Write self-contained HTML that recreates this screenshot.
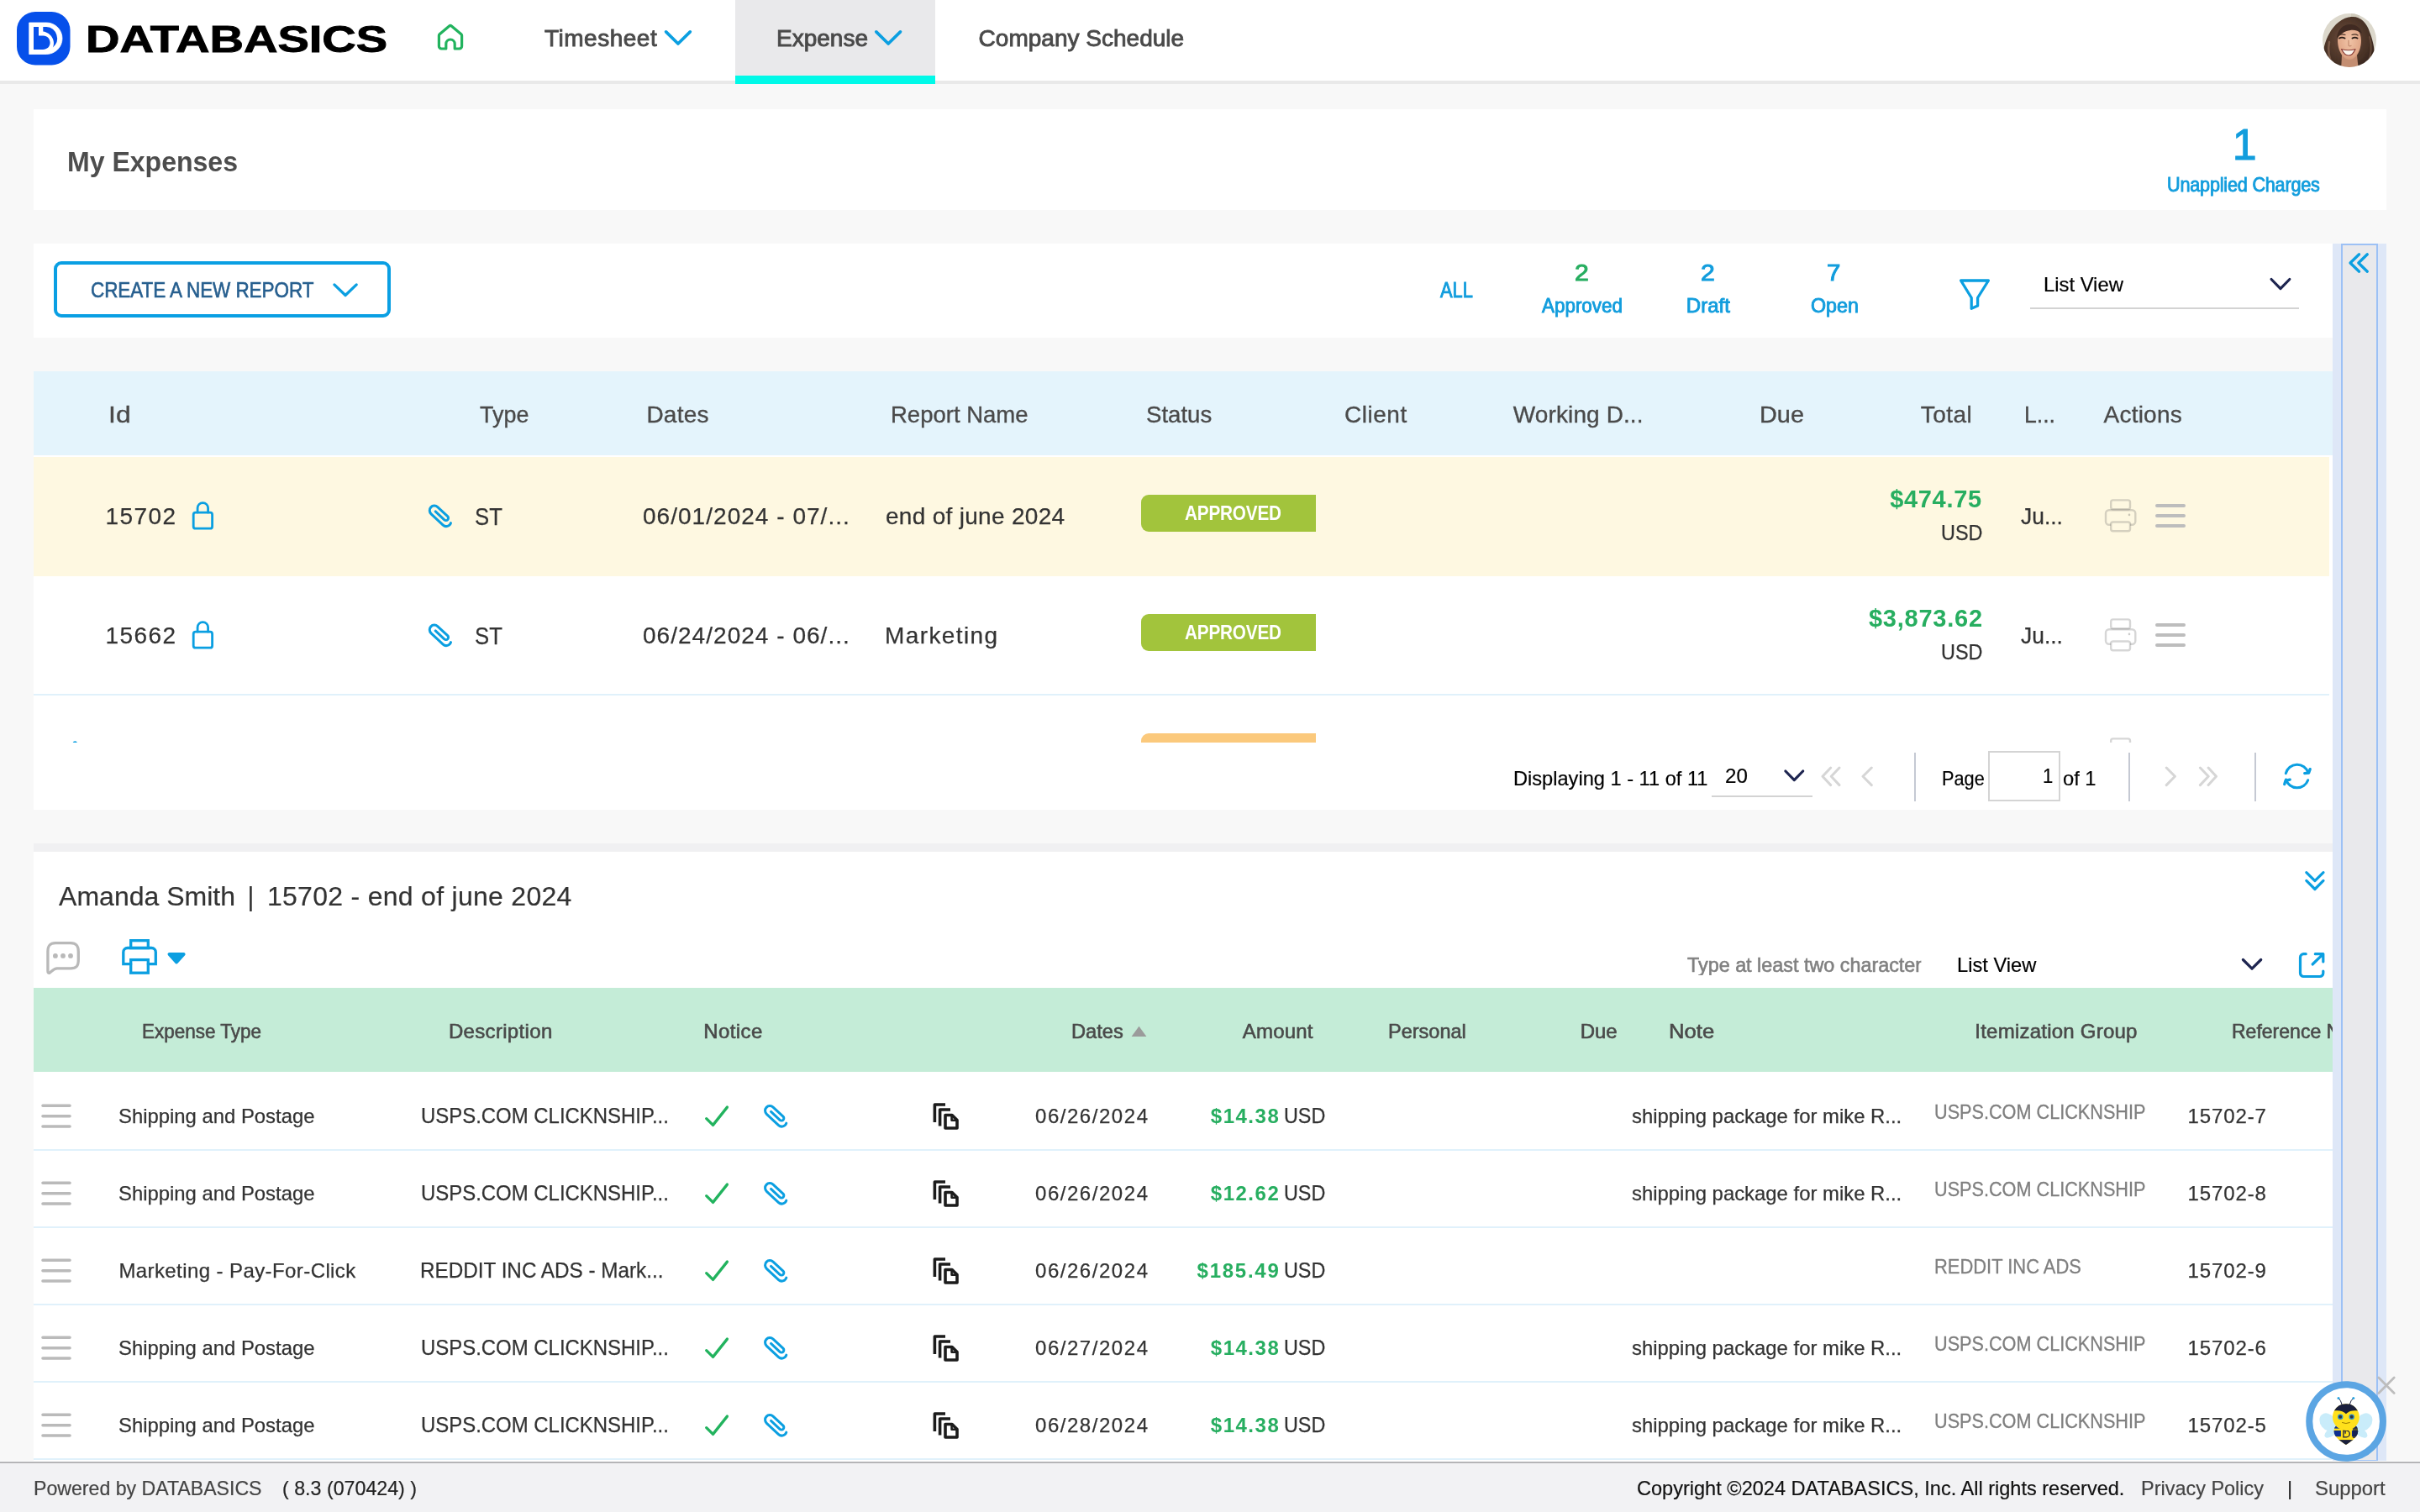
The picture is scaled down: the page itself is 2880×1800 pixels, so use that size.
<!DOCTYPE html>
<html lang="en"><head><meta charset="utf-8"><title>My Expenses</title><style>
*{box-sizing:border-box;margin:0;padding:0}
html,body{width:2880px;height:1800px;overflow:hidden;background:#f8f8f8;font-family:"Liberation Sans",sans-serif}
#root{position:relative;width:2880px;height:1800px;overflow:hidden;will-change:transform}
.b{position:absolute}
.t{position:absolute;white-space:pre;line-height:1;font-family:"Liberation Sans",sans-serif}
svg{position:absolute;overflow:visible}
</style></head><body><div id="root">
<!-- nav -->
<div class="b" style="left:0;top:0;width:2880px;height:96px;background:#fff"></div>
<div class="b" style="left:0;top:96px;width:2880px;height:4px;background:#e9e9e9"></div>
<div class="b" style="left:875px;top:0;width:238px;height:90px;background:#e9e9eb"></div>
<div class="b" style="left:875px;top:90px;width:238px;height:10px;background:#00f9e8"></div>
<!-- My Expenses panel -->
<div class="b" style="left:40px;top:130px;width:2800px;height:120px;background:#fff"></div>
<!-- toolbar panel -->
<div class="b" style="left:40px;top:290px;width:2736px;height:112px;background:#fff"></div>
<div class="b" style="left:64px;top:311px;width:401px;height:67px;border:4px solid #0a9fe3;border-radius:9px;background:#fff"></div>
<div class="b" style="left:2416px;top:366px;width:320px;height:2px;background:#d3d3d3"></div>
<!-- right collapsed strip -->
<div class="b" style="left:2776px;top:290px;width:64px;height:1450px;background:#dee7f7"></div>
<div class="b" style="left:2786px;top:290px;width:44px;height:1450px;background:#e9e9ec;border:2px solid #9dc1f5"></div>
<!-- grid 1 -->
<div class="b" style="left:40px;top:442px;width:2736px;height:522px;background:#fff"></div>
<div class="b" style="left:40px;top:442px;width:2736px;height:100px;background:#e4f4fc"></div>
<div class="b" style="left:40px;top:544px;width:2732px;height:142px;background:#fef8e1"></div>
<div class="b" style="left:40px;top:826px;width:2732px;height:2px;background:#e0f1fb"></div>
<div class="b" style="left:1358px;top:589px;width:208px;height:44px;background:#a2c43c;border-radius:9px 0 0 9px"></div>
<div class="b" style="left:1358px;top:731px;width:208px;height:44px;background:#a2c43c;border-radius:9px 0 0 9px"></div>
<div class="b" style="left:1358px;top:873px;width:208px;height:11px;background:#fbc97c;border-radius:9px 0 0 0"></div>
<!-- paging -->
<div class="b" style="left:2037px;top:947px;width:120px;height:2px;background:#d3d3d3"></div>
<div class="b" style="left:2278px;top:896px;width:2px;height:58px;background:#c5c9d3"></div>
<div class="b" style="left:2533px;top:896px;width:2px;height:58px;background:#c5c9d3"></div>
<div class="b" style="left:2683px;top:896px;width:2px;height:58px;background:#c5c9d3"></div>
<div class="b" style="left:2366px;top:894px;width:86px;height:60px;border:2px solid #d4d4d4;background:#fff"></div>
<!-- splitter -->
<div class="b" style="left:40px;top:1004px;width:2736px;height:10px;background:#f0f0f2"></div>
<!-- bottom panel -->
<div class="b" style="left:40px;top:1014px;width:2736px;height:726px;background:#fff"></div>
<div class="b" style="left:40px;top:1176px;width:2736px;height:100px;background:#c4ecd7"></div>
<div class="b" style="left:40px;top:1368px;width:2736px;height:2px;background:#e0f1fb"></div>
<div class="b" style="left:40px;top:1460px;width:2736px;height:2px;background:#e0f1fb"></div>
<div class="b" style="left:40px;top:1552px;width:2736px;height:2px;background:#e0f1fb"></div>
<div class="b" style="left:40px;top:1644px;width:2736px;height:2px;background:#e0f1fb"></div>
<div class="b" style="left:40px;top:1736px;width:2736px;height:2px;background:#e0f1fb"></div>
<!-- footer -->
<div class="b" style="left:0;top:1739px;width:2880px;height:1px;background:#fff"></div>
<div class="b" style="left:0;top:1740px;width:2880px;height:60px;background:#f2f2f4;border-top:2px solid #b5b5b7"></div>

<svg width="2880" height="1800" viewBox="0 0 2880 1800" style="left:0;top:0" fill="none" stroke-linecap="round" stroke-linejoin="round">
<g transform="translate(20,14)">
<rect x="0" y="0" width="63.5" height="63.5" rx="22" fill="#0650ea"/>
<path d="M15 13H35.25A18.75 18.75 0 0 1 35.25 50.5H15Z" fill="#fff" stroke="#fff" stroke-width="0.8"/>
<path d="M20 18H26V28.4H31.5C36.5 28.4 39.6 32.2 39.6 36.8C39.6 41.6 36 45 31 45H20Z" fill="#0650ea"/>
<path d="M31.3 18H35.25A13.75 13.75 0 0 1 42.9 42.4C46.5 35.5 41.5 24.8 31.3 23.4Z" fill="#0650ea"/>
</g>
<path d="M530.8 58H525.4a3 3 0 0 1-3-3V42.2a2 2 0 0 1 .7-1.5L534.7 31a2 2 0 0 1 2.6 0L548.9 40.7a2 2 0 0 1 .7 1.5V55a3 3 0 0 1-3 3H541.2V52.2a5.2 5.2 0 0 0-10.4 0Z" stroke="#22b35e" stroke-width="3.2"/>
<path d="M792.6 37.9L806.95 52L821.3 37.9" stroke="#0b9fe1" stroke-width="3.7"/>
<path d="M1042.8 37.9L1057.15 52L1071.5 37.9" stroke="#0b9fe1" stroke-width="3.7"/>
<path d="M397.9 338.9L411.04999999999995 351.5L424.2 338.9" stroke="#0b9fe1" stroke-width="3.3"/>
<path d="M2703.1 332.5L2713.95 343.6L2724.8 332.5" stroke="#1e2550" stroke-width="3.2"/>
<path d="M2669.4 1142.5L2680.05 1153.2L2690.7 1142.5" stroke="#1e2550" stroke-width="3.2"/>
<path d="M2124.9 918L2135.3 928.6L2145.7 918" stroke="#1e2550" stroke-width="3.2"/>
<path d="M2333.6 334H2366.4L2353.6 354.5V364L2346.2 367.3V354.5Z" stroke="#0b9fe1" stroke-width="3.3"/>
<path d="M2807.6 302.8L2797 313L2807.6 323.2M2817.3 302.8L2806.8 313L2817.3 323.2" stroke="#0b9fe1" stroke-width="3.3"/>
<path d="M2744.8 1038.6L2754.9 1048.6L2765 1038.6M2744.8 1048.4L2754.9 1058.5L2765 1048.4" stroke="#0b9fe1" stroke-width="3.2"/>
<path d="M2744.2 1135.7H2741.5a4 4 0 0 0-4 4V1158.5a4 4 0 0 0 4 4H2760.8a4 4 0 0 0 4-4V1156M2752.1 1148L2764.8 1135.7M2755.3 1135.7H2764.8V1144.9" stroke="#0b9fe1" stroke-width="3.2"/>
<rect x="230.2" y="610.2" width="22.4" height="19" rx="2.5" stroke="#0b9fe1" stroke-width="2.8"/>
<path d="M235.1 610V604.8a6.25 6.25 0 0 1 12.5 0V610" stroke="#0b9fe1" stroke-width="2.8"/>
<path transform="translate(518.2,608.9) rotate(43)" d="M22.74 -2.46A5.65 5.65 0 0 1 17.65 5.65L-1.75 5.65A5.65 5.65 0 0 1 -1.75 -5.65L14.5 -5.65A2.825 2.825 0 0 1 14.5 0L0 0" stroke="#0b9fe1" stroke-width="3.0"/>
<rect x="2512.2" y="595.4" width="22.8" height="10.8" rx="2.5" stroke="#555" stroke-opacity="0.24" stroke-width="2.4"/>
<rect x="2506" y="607.2" width="35.3" height="17.5" rx="4" stroke="#555" stroke-opacity="0.24" stroke-width="2.4"/>
<rect x="2512.2" y="621.5" width="22.8" height="10.8" rx="2.5" fill="#fef8e1" stroke="#555" stroke-opacity="0.24" stroke-width="2.4"/>
<circle cx="2534" cy="612.9" r="1.3" fill="#555" fill-opacity="0.3"/>
<path d="M2567 602H2599M2567 614H2599M2567 625.9H2599" stroke="#bdbdbd" stroke-width="4"/>
<rect x="230.2" y="752.2" width="22.4" height="19" rx="2.5" stroke="#0b9fe1" stroke-width="2.8"/>
<path d="M235.1 752V746.8a6.25 6.25 0 0 1 12.5 0V752" stroke="#0b9fe1" stroke-width="2.8"/>
<path transform="translate(518.2,750.9) rotate(43)" d="M22.74 -2.46A5.65 5.65 0 0 1 17.65 5.65L-1.75 5.65A5.65 5.65 0 0 1 -1.75 -5.65L14.5 -5.65A2.825 2.825 0 0 1 14.5 0L0 0" stroke="#0b9fe1" stroke-width="3.0"/>
<rect x="2512.2" y="737.4" width="22.8" height="10.8" rx="2.5" stroke="#555" stroke-opacity="0.24" stroke-width="2.4"/>
<rect x="2506" y="749.2" width="35.3" height="17.5" rx="4" stroke="#555" stroke-opacity="0.24" stroke-width="2.4"/>
<rect x="2512.2" y="763.5" width="22.8" height="10.8" rx="2.5" fill="#ffffff" stroke="#555" stroke-opacity="0.24" stroke-width="2.4"/>
<circle cx="2534" cy="754.9" r="1.3" fill="#555" fill-opacity="0.3"/>
<path d="M2567 744H2599M2567 756H2599M2567 767.9H2599" stroke="#bdbdbd" stroke-width="4"/>
<clipPath id="c3"><rect x="40" y="828" width="2732" height="56"/></clipPath>
<g clip-path="url(#c3)">
<rect x="2512.2" y="879.4" width="22.8" height="10.8" rx="2.5" stroke="#555" stroke-opacity="0.24" stroke-width="2.4"/>
<circle cx="89.3" cy="884.8" r="2.6" fill="#0b9fe1"/>
</g>
<path d="M2178.7 914L2169 924.3L2178.7 934.6M2189 914L2179.3 924.3L2189 934.6M2227.3 914L2217 924.3L2227.3 934.6M2578.2 914L2588.4 924.3L2578.2 934.6M2618.4 914L2628.2 924.3L2618.4 934.6M2628.1 914L2637.5 924.3L2628.1 934.6" stroke="#d6d6d6" stroke-width="3"/>
<path d="M2720.3 920.7A13.8 13.8 0 0 1 2746.9 920.0M2746.7 928.7A13.8 13.8 0 0 1 2720.5 928.0" stroke="#0b9fe1" stroke-width="3.0"/>
<path d="M2742.7 920.6L2747.6 920.1L2749.2 915.6M2725.2 928.2L2719.9 929.4L2718.7 933.6" stroke="#0b9fe1" stroke-width="3.3"/>
<path d="M66 1122.7H84C91 1122.7 93.3 1126 93.3 1133V1142.6C93.3 1150 91 1152.9 84 1152.9H68C64 1152.9 62 1156 59.3 1158C57.7 1159 56.9 1158 56.9 1156V1133C56.9 1126 59 1122.7 66 1122.7Z" stroke="#b9b9b9" stroke-width="3.3"/>
<circle cx="65.9" cy="1137.9" r="2.9" fill="#b9b9b9"/><circle cx="75" cy="1137.9" r="2.9" fill="#b9b9b9"/><circle cx="84" cy="1137.9" r="2.9" fill="#b9b9b9"/>
<g stroke="#0b9fe1" stroke-width="3.3" stroke-linejoin="miter"><rect x="155.7" y="1119.7" width="20.6" height="8.9"/><path d="M155.7 1147.7H146.8V1133.5a5 5 0 0 1 5-5H180.3a5 5 0 0 1 5 5V1147.7H176.3"/><rect x="155.7" y="1142.6" width="20.6" height="15.6"/></g>
<path d="M201.5 1136H218.6L210.05 1145.5Z" fill="#0b9fe1" stroke="#0b9fe1" stroke-width="4"/>
<path d="M1355.5 1221.7L1364.4 1234H1346.6Z" fill="#9b9b9b"/>
<path d="M51 1316.3H83M51 1328.7H83M51 1341H83" stroke="#bababa" stroke-width="3.6"/>
<path d="M840.7 1331.7L848.5 1339.4L865.4 1318.1" stroke="#22b35e" stroke-width="3.3"/>
<path transform="translate(917.5,1323.4) rotate(43)" d="M22.74 -2.46A5.65 5.65 0 0 1 17.65 5.65L-1.75 5.65A5.65 5.65 0 0 1 -1.75 -5.65L14.5 -5.65A2.825 2.825 0 0 1 14.5 0L0 0" stroke="#0b9fe1" stroke-width="3.0"/>
<g stroke="#1c1c1c" stroke-width="3.6" stroke-linecap="butt" stroke-linejoin="round"><path d="M1112.4 1336V1315H1125"/><path d="M1118.6 1340.5V1321H1131"/><path d="M1125 1327.5H1133L1139 1333.5V1343H1125Z" fill="#fff"/><path d="M1132.6 1328.5V1333.8H1138" stroke-width="2.6"/></g>
<path d="M51 1408.3H83M51 1420.7H83M51 1433H83" stroke="#bababa" stroke-width="3.6"/>
<path d="M840.7 1423.7L848.5 1431.4L865.4 1410.1" stroke="#22b35e" stroke-width="3.3"/>
<path transform="translate(917.5,1415.4) rotate(43)" d="M22.74 -2.46A5.65 5.65 0 0 1 17.65 5.65L-1.75 5.65A5.65 5.65 0 0 1 -1.75 -5.65L14.5 -5.65A2.825 2.825 0 0 1 14.5 0L0 0" stroke="#0b9fe1" stroke-width="3.0"/>
<g stroke="#1c1c1c" stroke-width="3.6" stroke-linecap="butt" stroke-linejoin="round"><path d="M1112.4 1428V1407H1125"/><path d="M1118.6 1432.5V1413H1131"/><path d="M1125 1419.5H1133L1139 1425.5V1435H1125Z" fill="#fff"/><path d="M1132.6 1420.5V1425.8H1138" stroke-width="2.6"/></g>
<path d="M51 1500.3H83M51 1512.7H83M51 1525H83" stroke="#bababa" stroke-width="3.6"/>
<path d="M840.7 1515.7L848.5 1523.4L865.4 1502.1" stroke="#22b35e" stroke-width="3.3"/>
<path transform="translate(917.5,1507.4) rotate(43)" d="M22.74 -2.46A5.65 5.65 0 0 1 17.65 5.65L-1.75 5.65A5.65 5.65 0 0 1 -1.75 -5.65L14.5 -5.65A2.825 2.825 0 0 1 14.5 0L0 0" stroke="#0b9fe1" stroke-width="3.0"/>
<g stroke="#1c1c1c" stroke-width="3.6" stroke-linecap="butt" stroke-linejoin="round"><path d="M1112.4 1520V1499H1125"/><path d="M1118.6 1524.5V1505H1131"/><path d="M1125 1511.5H1133L1139 1517.5V1527H1125Z" fill="#fff"/><path d="M1132.6 1512.5V1517.8H1138" stroke-width="2.6"/></g>
<path d="M51 1592.3H83M51 1604.7H83M51 1617H83" stroke="#bababa" stroke-width="3.6"/>
<path d="M840.7 1607.7L848.5 1615.4L865.4 1594.1" stroke="#22b35e" stroke-width="3.3"/>
<path transform="translate(917.5,1599.4) rotate(43)" d="M22.74 -2.46A5.65 5.65 0 0 1 17.65 5.65L-1.75 5.65A5.65 5.65 0 0 1 -1.75 -5.65L14.5 -5.65A2.825 2.825 0 0 1 14.5 0L0 0" stroke="#0b9fe1" stroke-width="3.0"/>
<g stroke="#1c1c1c" stroke-width="3.6" stroke-linecap="butt" stroke-linejoin="round"><path d="M1112.4 1612V1591H1125"/><path d="M1118.6 1616.5V1597H1131"/><path d="M1125 1603.5H1133L1139 1609.5V1619H1125Z" fill="#fff"/><path d="M1132.6 1604.5V1609.8H1138" stroke-width="2.6"/></g>
<path d="M51 1684.3H83M51 1696.7H83M51 1709H83" stroke="#bababa" stroke-width="3.6"/>
<path d="M840.7 1699.7L848.5 1707.4L865.4 1686.1" stroke="#22b35e" stroke-width="3.3"/>
<path transform="translate(917.5,1691.4) rotate(43)" d="M22.74 -2.46A5.65 5.65 0 0 1 17.65 5.65L-1.75 5.65A5.65 5.65 0 0 1 -1.75 -5.65L14.5 -5.65A2.825 2.825 0 0 1 14.5 0L0 0" stroke="#0b9fe1" stroke-width="3.0"/>
<g stroke="#1c1c1c" stroke-width="3.6" stroke-linecap="butt" stroke-linejoin="round"><path d="M1112.4 1704V1683H1125"/><path d="M1118.6 1708.5V1689H1131"/><path d="M1125 1695.5H1133L1139 1701.5V1711H1125Z" fill="#fff"/><path d="M1132.6 1696.5V1701.8H1138" stroke-width="2.6"/></g>
<circle cx="2792.1" cy="1692" r="43.85" fill="#fff" stroke="#5ba5e3" stroke-width="8"/>
<g transform="translate(2791.9,1692)">
<ellipse cx="-21.5" cy="1" rx="9" ry="11.5" fill="#c9ecfa" transform="rotate(-38 -21.5 1)"/><ellipse cx="21.5" cy="1" rx="9" ry="11.5" fill="#c9ecfa" transform="rotate(38 21.5 1)"/>
<ellipse cx="-18" cy="13.5" rx="8.5" ry="4.6" fill="#c9ecfa" transform="rotate(-35 -18 13.5)"/><ellipse cx="18" cy="13.5" rx="8.5" ry="4.6" fill="#c9ecfa" transform="rotate(35 18 13.5)"/>
<clipPath id="bb"><path d="M-14.3 12C-14.3 3 -7 3.5 0 3.5C7 3.5 14.3 3 14.3 12C14.3 19 6 24 0 28C-6 24 -14.3 19 -14.3 12Z"/></clipPath>
<g clip-path="url(#bb)"><rect x="-16" y="0" width="32" height="30" fill="#ffe01b"/><rect x="-16" y="3" width="32" height="5.6" fill="#0c2f8f"/><rect x="-16" y="11" width="32" height="7.2" fill="#0c2f8f"/><rect x="8" y="4" width="8" height="16" fill="#1a1f3d" opacity="0.75"/><rect x="-16" y="22.1" width="32" height="8" fill="#1a1f3d"/><rect x="-6" y="9.5" width="13" height="10.5" fill="#ffe01b"/></g>
<path d="M-3 11H0.5A3.9 3.9 0 0 1 0.5 18.8H-3ZM-0.8 11V14.2" stroke="#1a1f3d" stroke-width="1.3" stroke-linejoin="miter"/>
<circle cx="0" cy="-4.9" r="15.9" fill="#ffe01b"/>
<path d="M-14 -12.5A15.9 15.9 0 0 1 14 -12.5C8 -13.5 3 -12 0 -8.8C-3 -12 -8 -13.5 -14 -12.5Z" fill="#1a1f3d"/>
<circle cx="-6.7" cy="-5.3" r="3.2" fill="#2a8fd0"/><circle cx="6.8" cy="-5.3" r="3.2" fill="#2a8fd0"/><circle cx="-6.7" cy="-5.3" r="1.9" fill="#333"/><circle cx="6.8" cy="-5.3" r="1.9" fill="#333"/>
<path d="M-4.4 1.6Q0 3.6 4.4 1.6" stroke="#9a7b00" stroke-width="1"/>
<path d="M-4.8 -20Q-6 -25 -8.7 -27.5M4.4 -20Q5.6 -25 8.7 -27.5" stroke="#1a1f3d" stroke-width="1"/><circle cx="-8.9" cy="-27.6" r="1.5" fill="#2aa3df"/><circle cx="8.9" cy="-27.6" r="1.5" fill="#2aa3df"/>
</g>
<path d="M2830.8 1640.1L2849.2 1658.4M2849.2 1640.1L2830.8 1658.4" stroke="#bdbdbd" stroke-width="2.8"/>
<defs><radialGradient id="hg" cx="0.45" cy="0.4" r="0.7"><stop offset="0" stop-color="#6d4c3a"/><stop offset="0.6" stop-color="#4a3327"/><stop offset="1" stop-color="#2b1d17"/></radialGradient>
<radialGradient id="fg" cx="0.5" cy="0.45" r="0.65"><stop offset="0" stop-color="#f0c3a6"/><stop offset="0.7" stop-color="#e2a98a"/><stop offset="1" stop-color="#c58a6c"/></radialGradient>
<filter id="bl" x="-10%" y="-10%" width="120%" height="120%"><feGaussianBlur stdDeviation="0.7"/></filter>
<clipPath id="av"><circle cx="2796" cy="48" r="32"/></clipPath></defs>
<g clip-path="url(#av)"><rect x="2760" y="12" width="72" height="72" fill="#dcd8cc"/><rect x="2798" y="12" width="10" height="40" fill="#cfcabb"/>
<g filter="url(#bl)">
<path d="M2766 86C2762 70 2765 52 2772 40C2778 29 2788 20 2800 20C2810 20 2817 28 2820 38C2824 48 2827 60 2825 70C2824 78 2821 82 2818 86Z" fill="url(#hg)"/>
<path d="M2772 50C2770 60 2772 70 2776 78" stroke="#8a6852" stroke-width="2.5" opacity="0.7"/><path d="M2820 44C2823 54 2822 66 2818 74" stroke="#7a5a47" stroke-width="2" opacity="0.6"/>
<path d="M2786 84L2787 66H2805L2807 84Z" fill="#c48e72"/>
<path d="M2782 48C2782 38 2788 31 2796 31C2804 31 2810 38 2810 48C2810 60 2804 71 2796 71C2788 71 2782 60 2782 48Z" fill="url(#fg)"/>
<path d="M2781 47C2781 36 2788 29 2797 29C2804 29 2809 33 2811 40C2806 36 2801 35 2797 36C2790 37 2784 41 2781 47Z" fill="#3f2b21"/>
<path d="M2786.5 58.5Q2795 61 2803 58.5Q2800 66 2795 66Q2790 66 2786.5 58.5Z" fill="#fbf6ee" stroke="#8c3f38" stroke-width="1.2"/>
<path d="M2784 45.5Q2787 43.8 2790.5 45.5M2799.5 45.5Q2802.5 43.8 2805.5 45.5" stroke="#2a1c16" stroke-width="1.8"/>
<path d="M2783.5 42Q2787 40 2791 41.5M2799 41.5Q2803 40 2806 42" stroke="#4a3327" stroke-width="1.2"/>
<path d="M2795 48V54Q2796 55.5 2798 54.5" stroke="#c28a6e" stroke-width="1.2"/>
</g></g>
</svg>
<span class="t" style="left:648.0px;top:31.7px;font-size:28px;color:#4a4a4a;-webkit-text-stroke:0.9px #4a4a4a;letter-spacing:0.50px;">Timesheet</span>
<span class="t" style="left:924.0px;top:31.7px;font-size:28px;color:#4a4a4a;-webkit-text-stroke:0.9px #4a4a4a;">Expense</span>
<span class="t" style="left:1164.6px;top:31.7px;font-size:28px;color:#4a4a4a;-webkit-text-stroke:0.9px #4a4a4a;letter-spacing:0.01px;">Company Schedule</span>
<span class="t" style="left:102.2px;top:24.5px;font-size:44.5px;color:#000;font-weight:700;-webkit-text-stroke:0.9px #000;transform-origin:0 0;transform:scaleX(1.26);">DATABASICS</span>
<span class="t" style="left:80.1px;top:175.2px;font-size:34px;color:#4d4d4d;font-weight:700;transform-origin:0 0;transform:scaleX(0.9420);">My Expenses</span>
<span class="t" style="left:2656.7px;top:146.1px;font-size:52px;color:#129ddd;-webkit-text-stroke:1.0px #129ddd;">1</span>
<span class="t" style="left:2579.4px;top:208.3px;font-size:24px;color:#129ddd;-webkit-text-stroke:0.9px #129ddd;letter-spacing:-0.21px;transform-origin:0 0;transform:scaleX(0.9000);">Unapplied Charges</span>
<span class="t" style="left:107.7px;top:332.7px;font-size:25px;color:#275f8f;-webkit-text-stroke:0.6px #275f8f;letter-spacing:-0.08px;transform-origin:0 0;transform:scaleX(0.9000);">CREATE A NEW REPORT</span>
<span class="t" style="left:1714.0px;top:332.5px;font-size:25px;color:#129ddd;-webkit-text-stroke:0.9px #129ddd;transform-origin:0 0;transform:scaleX(0.8726);">ALL</span>
<span class="t" style="left:1874.0px;top:311.2px;font-size:28px;color:#27ae60;-webkit-text-stroke:1.0px #27ae60;transform-origin:0 0;transform:scaleX(1.0786);">2</span>
<span class="t" style="left:1835.2px;top:351.5px;font-size:24px;color:#129ddd;-webkit-text-stroke:0.9px #129ddd;transform-origin:0 0;transform:scaleX(0.9340);">Approved</span>
<span class="t" style="left:2024.3px;top:311.2px;font-size:28px;color:#129ddd;-webkit-text-stroke:1.0px #129ddd;transform-origin:0 0;transform:scaleX(1.0786);">2</span>
<span class="t" style="left:2006.8px;top:351.5px;font-size:24px;color:#129ddd;-webkit-text-stroke:0.9px #129ddd;letter-spacing:0.04px;">Draft</span>
<span class="t" style="left:2174.2px;top:311.2px;font-size:28px;color:#129ddd;-webkit-text-stroke:1.0px #129ddd;transform-origin:0 0;transform:scaleX(1.0500);">7</span>
<span class="t" style="left:2155.0px;top:351.5px;font-size:24px;color:#129ddd;-webkit-text-stroke:0.9px #129ddd;transform-origin:0 0;transform:scaleX(0.9687);">Open</span>
<span class="t" style="left:2432.2px;top:326.5px;font-size:24px;color:#000;-webkit-text-stroke:0.2px #000;transform-origin:0 0;transform:scaleX(0.9919);">List View</span>
<span class="t" style="left:128.7px;top:480.3px;font-size:28px;color:#4a4a4a;-webkit-text-stroke:0.35px #4a4a4a;transform-origin:0 0;transform:scaleX(1.1426);">Id</span>
<span class="t" style="left:571.0px;top:480.3px;font-size:28px;color:#4a4a4a;-webkit-text-stroke:0.35px #4a4a4a;transform-origin:0 0;transform:scaleX(0.9612);">Type</span>
<span class="t" style="left:769.4px;top:480.3px;font-size:28px;color:#4a4a4a;-webkit-text-stroke:0.35px #4a4a4a;letter-spacing:0.24px;">Dates</span>
<span class="t" style="left:1059.5px;top:480.3px;font-size:28px;color:#4a4a4a;-webkit-text-stroke:0.35px #4a4a4a;transform-origin:0 0;transform:scaleX(0.9821);">Report Name</span>
<span class="t" style="left:1363.8px;top:480.3px;font-size:28px;color:#4a4a4a;-webkit-text-stroke:0.35px #4a4a4a;transform-origin:0 0;transform:scaleX(0.9848);">Status</span>
<span class="t" style="left:1600.0px;top:480.3px;font-size:28px;color:#4a4a4a;-webkit-text-stroke:0.35px #4a4a4a;letter-spacing:0.52px;">Client</span>
<span class="t" style="left:1800.8px;top:480.3px;font-size:28px;color:#4a4a4a;-webkit-text-stroke:0.35px #4a4a4a;letter-spacing:0.11px;">Working D...</span>
<span class="t" style="left:2093.6px;top:480.3px;font-size:28px;color:#4a4a4a;-webkit-text-stroke:0.35px #4a4a4a;transform-origin:0 0;transform:scaleX(1.0309);">Due</span>
<span class="t" style="left:2285.8px;top:480.3px;font-size:28px;color:#4a4a4a;-webkit-text-stroke:0.35px #4a4a4a;letter-spacing:0.44px;">Total</span>
<span class="t" style="left:2409.4px;top:480.3px;font-size:28px;color:#4a4a4a;-webkit-text-stroke:0.35px #4a4a4a;transform-origin:0 0;transform:scaleX(0.9507);">L...</span>
<span class="t" style="left:2503.6px;top:480.3px;font-size:28px;color:#4a4a4a;-webkit-text-stroke:0.35px #4a4a4a;letter-spacing:0.21px;">Actions</span>
<span class="t" style="left:125.6px;top:601.3px;font-size:28px;color:#333333;-webkit-text-stroke:0.25px #333333;letter-spacing:1.43px;">15702</span>
<span class="t" style="left:564.7px;top:600.5px;font-size:29px;color:#333333;-webkit-text-stroke:0.25px #333333;transform-origin:0 0;transform:scaleX(0.8860);">ST</span>
<span class="t" style="left:765.0px;top:601.3px;font-size:28px;color:#333333;-webkit-text-stroke:0.25px #333333;letter-spacing:1.03px;">06/01/2024 - 07/...</span>
<span class="t" style="left:1054.0px;top:601.3px;font-size:28px;color:#333333;-webkit-text-stroke:0.25px #333333;letter-spacing:0.30px;">end of june 2024</span>
<span class="t" style="left:1410.3px;top:599.8px;font-size:23px;color:#fff;font-weight:700;letter-spacing:-0.18px;transform-origin:0 0;transform:scaleX(0.9000);">APPROVED</span>
<span class="t" style="left:2249.2px;top:580.4px;font-size:29px;color:#27ae60;font-weight:700;letter-spacing:0.68px;">$474.75</span>
<span class="t" style="left:2310.2px;top:621.6px;font-size:25px;color:#333333;-webkit-text-stroke:0.25px #333333;transform-origin:0 0;transform:scaleX(0.9363);">USD</span>
<span class="t" style="left:2404.8px;top:601.1px;font-size:28px;color:#333333;-webkit-text-stroke:0.25px #333333;transform-origin:0 0;transform:scaleX(0.9427);">Ju...</span>
<span class="t" style="left:125.6px;top:743.3px;font-size:28px;color:#333333;-webkit-text-stroke:0.25px #333333;letter-spacing:1.43px;">15662</span>
<span class="t" style="left:564.7px;top:742.5px;font-size:29px;color:#333333;-webkit-text-stroke:0.25px #333333;transform-origin:0 0;transform:scaleX(0.8860);">ST</span>
<span class="t" style="left:765.0px;top:743.3px;font-size:28px;color:#333333;-webkit-text-stroke:0.25px #333333;letter-spacing:1.03px;">06/24/2024 - 06/...</span>
<span class="t" style="left:1053.0px;top:743.3px;font-size:28px;color:#333333;-webkit-text-stroke:0.25px #333333;letter-spacing:1.39px;">Marketing</span>
<span class="t" style="left:1410.3px;top:741.8px;font-size:23px;color:#fff;font-weight:700;letter-spacing:-0.18px;transform-origin:0 0;transform:scaleX(0.9000);">APPROVED</span>
<span class="t" style="left:2223.9px;top:722.4px;font-size:29px;color:#27ae60;font-weight:700;letter-spacing:0.78px;">$3,873.62</span>
<span class="t" style="left:2310.2px;top:763.6px;font-size:25px;color:#333333;-webkit-text-stroke:0.25px #333333;transform-origin:0 0;transform:scaleX(0.9363);">USD</span>
<span class="t" style="left:2404.8px;top:743.1px;font-size:28px;color:#333333;-webkit-text-stroke:0.25px #333333;transform-origin:0 0;transform:scaleX(0.9427);">Ju...</span>
<span class="t" style="left:1800.9px;top:914.7px;font-size:24px;color:#000;-webkit-text-stroke:0.2px #000;transform-origin:0 0;transform:scaleX(0.9838);">Displaying 1 - 11 of 11</span>
<span class="t" style="left:2053.2px;top:911.9px;font-size:24px;color:#000;-webkit-text-stroke:0.2px #000;transform-origin:0 0;transform:scaleX(1.0060);">20</span>
<span class="t" style="left:2311.0px;top:914.7px;font-size:24px;color:#000;-webkit-text-stroke:0.2px #000;transform-origin:0 0;transform:scaleX(0.9049);">Page</span>
<span class="t" style="left:2431.0px;top:912.2px;font-size:24px;color:#000;-webkit-text-stroke:0.2px #000;transform-origin:0 0;transform:scaleX(0.9167);">1</span>
<span class="t" style="left:2455.4px;top:914.7px;font-size:24px;color:#000;-webkit-text-stroke:0.2px #000;transform-origin:0 0;transform:scaleX(0.9875);">of 1</span>
<span class="t" style="left:70.1px;top:1051.3px;font-size:32px;color:#333333;-webkit-text-stroke:0.2px #333333;">Amanda Smith</span>
<span class="t" style="left:294.3px;top:1051.3px;font-size:32px;color:#333333;">|</span>
<span class="t" style="left:317.9px;top:1051.3px;font-size:32px;color:#333333;-webkit-text-stroke:0.2px #333333;letter-spacing:0.29px;">15702 - end of june 2024</span>
<span class="t" style="left:2008.2px;top:1136.6px;font-size:24px;color:#808080;-webkit-text-stroke:0.6px #808080;transform-origin:0 0;transform:scaleX(0.9732);max-width:285.7px;overflow:hidden;">Type at least two characters</span>
<span class="t" style="left:2328.5px;top:1136.6px;font-size:24px;color:#000;-webkit-text-stroke:0.2px #000;transform-origin:0 0;transform:scaleX(0.9877);">List View</span>
<span class="t" style="left:168.8px;top:1215.5px;font-size:24px;color:#4a4a4a;-webkit-text-stroke:0.6px #4a4a4a;transform-origin:0 0;transform:scaleX(0.9360);">Expense Type</span>
<span class="t" style="left:533.9px;top:1215.5px;font-size:24px;color:#4a4a4a;-webkit-text-stroke:0.6px #4a4a4a;letter-spacing:0.33px;">Description</span>
<span class="t" style="left:837.3px;top:1215.5px;font-size:24px;color:#4a4a4a;-webkit-text-stroke:0.6px #4a4a4a;letter-spacing:0.40px;">Notice</span>
<span class="t" style="left:1274.5px;top:1215.5px;font-size:24px;color:#4a4a4a;-webkit-text-stroke:0.6px #4a4a4a;transform-origin:0 0;transform:scaleX(0.9855);">Dates</span>
<span class="t" style="left:1478.8px;top:1215.5px;font-size:24px;color:#4a4a4a;-webkit-text-stroke:0.6px #4a4a4a;letter-spacing:0.17px;">Amount</span>
<span class="t" style="left:1651.8px;top:1215.5px;font-size:24px;color:#4a4a4a;-webkit-text-stroke:0.6px #4a4a4a;transform-origin:0 0;transform:scaleX(0.9795);">Personal</span>
<span class="t" style="left:1880.7px;top:1215.5px;font-size:24px;color:#4a4a4a;-webkit-text-stroke:0.6px #4a4a4a;">Due</span>
<span class="t" style="left:1985.9px;top:1215.5px;font-size:24px;color:#4a4a4a;-webkit-text-stroke:0.6px #4a4a4a;transform-origin:0 0;transform:scaleX(1.0679);">Note</span>
<span class="t" style="left:2350.3px;top:1215.5px;font-size:24px;color:#4a4a4a;-webkit-text-stroke:0.6px #4a4a4a;letter-spacing:0.23px;">Itemization Group</span>
<span class="t" style="left:2655.5px;top:1215.5px;font-size:24px;color:#4a4a4a;-webkit-text-stroke:0.6px #4a4a4a;transform-origin:0 0;transform:scaleX(0.9590);max-width:124.6px;overflow:hidden;">Reference Number</span>
<span class="t" style="left:141.4px;top:1317.3px;font-size:24px;color:#333333;-webkit-text-stroke:0.25px #333333;transform-origin:0 0;transform:scaleX(0.9940);">Shipping and Postage</span>
<span class="t" style="left:501.0px;top:1316.4px;font-size:25px;color:#333333;-webkit-text-stroke:0.25px #333333;transform-origin:0 0;transform:scaleX(0.9574);">USPS.COM CLICKNSHIP...</span>
<span class="t" style="left:1232.0px;top:1317.3px;font-size:24px;color:#333333;-webkit-text-stroke:0.25px #333333;letter-spacing:1.54px;">06/26/2024</span>
<span class="t" style="left:1440.8px;top:1317.3px;font-size:24px;color:#27ae60;font-weight:700;letter-spacing:1.51px;">$14.38</span>
<span class="t" style="left:1528.3px;top:1316.4px;font-size:25px;color:#333333;-webkit-text-stroke:0.25px #333333;transform-origin:0 0;transform:scaleX(0.9344);">USD</span>
<span class="t" style="left:1942.0px;top:1317.3px;font-size:24px;color:#333333;-webkit-text-stroke:0.25px #333333;transform-origin:0 0;transform:scaleX(0.9951);">shipping package for mike R...</span>
<span class="t" style="left:2301.9px;top:1312.8px;font-size:23px;color:#7f7f7f;-webkit-text-stroke:0.3px #7f7f7f;transform-origin:0 0;transform:scaleX(0.9414);">USPS.COM CLICKNSHIP</span>
<span class="t" style="left:2603.5px;top:1317.3px;font-size:24px;color:#333333;-webkit-text-stroke:0.25px #333333;letter-spacing:0.88px;">15702-7</span>
<span class="t" style="left:141.4px;top:1409.3px;font-size:24px;color:#333333;-webkit-text-stroke:0.25px #333333;transform-origin:0 0;transform:scaleX(0.9940);">Shipping and Postage</span>
<span class="t" style="left:501.0px;top:1408.4px;font-size:25px;color:#333333;-webkit-text-stroke:0.25px #333333;transform-origin:0 0;transform:scaleX(0.9574);">USPS.COM CLICKNSHIP...</span>
<span class="t" style="left:1232.0px;top:1409.3px;font-size:24px;color:#333333;-webkit-text-stroke:0.25px #333333;letter-spacing:1.54px;">06/26/2024</span>
<span class="t" style="left:1440.8px;top:1409.3px;font-size:24px;color:#27ae60;font-weight:700;letter-spacing:1.51px;">$12.62</span>
<span class="t" style="left:1528.3px;top:1408.4px;font-size:25px;color:#333333;-webkit-text-stroke:0.25px #333333;transform-origin:0 0;transform:scaleX(0.9344);">USD</span>
<span class="t" style="left:1942.0px;top:1409.3px;font-size:24px;color:#333333;-webkit-text-stroke:0.25px #333333;transform-origin:0 0;transform:scaleX(0.9951);">shipping package for mike R...</span>
<span class="t" style="left:2301.9px;top:1404.8px;font-size:23px;color:#7f7f7f;-webkit-text-stroke:0.3px #7f7f7f;transform-origin:0 0;transform:scaleX(0.9414);">USPS.COM CLICKNSHIP</span>
<span class="t" style="left:2603.5px;top:1409.3px;font-size:24px;color:#333333;-webkit-text-stroke:0.25px #333333;letter-spacing:0.88px;">15702-8</span>
<span class="t" style="left:141.4px;top:1501.3px;font-size:24px;color:#333333;-webkit-text-stroke:0.25px #333333;letter-spacing:0.41px;">Marketing - Pay-For-Click</span>
<span class="t" style="left:500.1px;top:1500.4px;font-size:25px;color:#333333;-webkit-text-stroke:0.25px #333333;transform-origin:0 0;transform:scaleX(0.9707);">REDDIT INC ADS - Mark...</span>
<span class="t" style="left:1232.0px;top:1501.3px;font-size:24px;color:#333333;-webkit-text-stroke:0.25px #333333;letter-spacing:1.54px;">06/26/2024</span>
<span class="t" style="left:1424.6px;top:1501.3px;font-size:24px;color:#27ae60;font-weight:700;letter-spacing:1.73px;">$185.49</span>
<span class="t" style="left:1528.3px;top:1500.4px;font-size:25px;color:#333333;-webkit-text-stroke:0.25px #333333;transform-origin:0 0;transform:scaleX(0.9344);">USD</span>
<span class="t" style="left:2301.8px;top:1496.8px;font-size:23px;color:#7f7f7f;-webkit-text-stroke:0.3px #7f7f7f;transform-origin:0 0;transform:scaleX(0.9524);">REDDIT INC ADS</span>
<span class="t" style="left:2603.5px;top:1501.3px;font-size:24px;color:#333333;-webkit-text-stroke:0.25px #333333;letter-spacing:0.88px;">15702-9</span>
<span class="t" style="left:141.4px;top:1593.3px;font-size:24px;color:#333333;-webkit-text-stroke:0.25px #333333;transform-origin:0 0;transform:scaleX(0.9940);">Shipping and Postage</span>
<span class="t" style="left:501.0px;top:1592.4px;font-size:25px;color:#333333;-webkit-text-stroke:0.25px #333333;transform-origin:0 0;transform:scaleX(0.9574);">USPS.COM CLICKNSHIP...</span>
<span class="t" style="left:1232.0px;top:1593.3px;font-size:24px;color:#333333;-webkit-text-stroke:0.25px #333333;letter-spacing:1.54px;">06/27/2024</span>
<span class="t" style="left:1440.8px;top:1593.3px;font-size:24px;color:#27ae60;font-weight:700;letter-spacing:1.51px;">$14.38</span>
<span class="t" style="left:1528.3px;top:1592.4px;font-size:25px;color:#333333;-webkit-text-stroke:0.25px #333333;transform-origin:0 0;transform:scaleX(0.9344);">USD</span>
<span class="t" style="left:1942.0px;top:1593.3px;font-size:24px;color:#333333;-webkit-text-stroke:0.25px #333333;transform-origin:0 0;transform:scaleX(0.9951);">shipping package for mike R...</span>
<span class="t" style="left:2301.9px;top:1588.8px;font-size:23px;color:#7f7f7f;-webkit-text-stroke:0.3px #7f7f7f;transform-origin:0 0;transform:scaleX(0.9414);">USPS.COM CLICKNSHIP</span>
<span class="t" style="left:2603.5px;top:1593.3px;font-size:24px;color:#333333;-webkit-text-stroke:0.25px #333333;letter-spacing:0.88px;">15702-6</span>
<span class="t" style="left:141.4px;top:1685.3px;font-size:24px;color:#333333;-webkit-text-stroke:0.25px #333333;transform-origin:0 0;transform:scaleX(0.9940);">Shipping and Postage</span>
<span class="t" style="left:501.0px;top:1684.4px;font-size:25px;color:#333333;-webkit-text-stroke:0.25px #333333;transform-origin:0 0;transform:scaleX(0.9574);">USPS.COM CLICKNSHIP...</span>
<span class="t" style="left:1232.0px;top:1685.3px;font-size:24px;color:#333333;-webkit-text-stroke:0.25px #333333;letter-spacing:1.54px;">06/28/2024</span>
<span class="t" style="left:1440.8px;top:1685.3px;font-size:24px;color:#27ae60;font-weight:700;letter-spacing:1.51px;">$14.38</span>
<span class="t" style="left:1528.3px;top:1684.4px;font-size:25px;color:#333333;-webkit-text-stroke:0.25px #333333;transform-origin:0 0;transform:scaleX(0.9344);">USD</span>
<span class="t" style="left:1942.0px;top:1685.3px;font-size:24px;color:#333333;-webkit-text-stroke:0.25px #333333;transform-origin:0 0;transform:scaleX(0.9951);">shipping package for mike R...</span>
<span class="t" style="left:2301.9px;top:1680.8px;font-size:23px;color:#7f7f7f;-webkit-text-stroke:0.3px #7f7f7f;transform-origin:0 0;transform:scaleX(0.9414);">USPS.COM CLICKNSHIP</span>
<span class="t" style="left:2603.5px;top:1685.3px;font-size:24px;color:#333333;-webkit-text-stroke:0.25px #333333;letter-spacing:0.88px;">15702-5</span>
<span class="t" style="left:39.9px;top:1759.7px;font-size:24px;color:#444;-webkit-text-stroke:0.2px #444;transform-origin:0 0;transform:scaleX(0.9633);">Powered by DATABASICS</span>
<span class="t" style="left:335.5px;top:1759.7px;font-size:24px;color:#222;-webkit-text-stroke:0.2px #222;transform-origin:0 0;transform:scaleX(0.9674);">( 8.3 (070424) )</span>
<span class="t" style="left:1947.6px;top:1759.7px;font-size:24px;color:#111;-webkit-text-stroke:0.2px #111;transform-origin:0 0;transform:scaleX(0.9809);">Copyright ©2024 DATABASICS, Inc. All rights reserved.</span>
<span class="t" style="left:2547.7px;top:1759.7px;font-size:24px;color:#444;-webkit-text-stroke:0.2px #444;transform-origin:0 0;transform:scaleX(0.9773);">Privacy Policy</span>
<span class="t" style="left:2722.0px;top:1759.7px;font-size:24px;color:#222;">|</span>
<span class="t" style="left:2754.7px;top:1759.7px;font-size:24px;color:#444;-webkit-text-stroke:0.2px #444;transform-origin:0 0;transform:scaleX(0.9953);">Support</span>
</div></body></html>
